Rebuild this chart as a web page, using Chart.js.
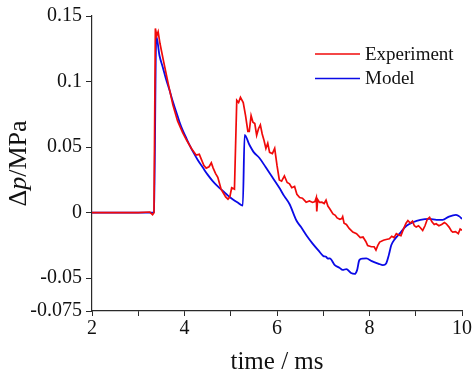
<!DOCTYPE html>
<html>
<head>
<meta charset="utf-8"/>
<title>Pressure</title>
<script src="https://cdn.jsdelivr.net/npm/chart.js@4.4.0/dist/chart.umd.min.js"></script>
<style>
  body { margin: 0; background: #fff; }
  #box { position: relative; width: 474px; height: 381px; }
</style>
</head>
<body>
<div id="box"><canvas id="cv" width="474" height="381"></canvas></div>
<script>
// experiment trace (time in ms, dp in MPa)
const expTime = [2.0, 3.0, 3.25, 3.31, 3.34, 3.37, 3.40, 3.43, 3.47, 3.55, 3.65, 3.75, 3.85, 3.96, 4.05, 4.15, 4.25, 4.32, 4.36, 4.42, 4.47, 4.53, 4.58, 4.62, 4.67, 4.72, 4.79, 4.84, 4.89, 4.94, 4.98, 5.02, 5.08, 5.13, 5.17, 5.21, 5.27, 5.32, 5.37, 5.40, 5.44, 5.48, 5.52, 5.56, 5.60, 5.64, 5.68, 5.72, 5.76, 5.80, 5.84, 5.90, 5.95, 6.00, 6.05, 6.10, 6.16, 6.22, 6.27, 6.32, 6.38, 6.43, 6.49, 6.55, 6.63, 6.70, 6.77, 6.82, 6.85, 6.86, 6.88, 6.92, 6.97, 7.02, 7.06, 7.10, 7.14, 7.21, 7.26, 7.30, 7.36, 7.40, 7.42, 7.45, 7.50, 7.56, 7.64, 7.72, 7.80, 7.86, 7.92, 7.96, 8.04, 8.10, 8.14, 8.18, 8.22, 8.30, 8.36, 8.43, 8.48, 8.53, 8.58, 8.63, 8.68, 8.74, 8.79, 8.83, 8.88, 8.93, 8.97, 9.01, 9.06, 9.10, 9.15, 9.20, 9.25, 9.30, 9.35, 9.40, 9.44, 9.50, 9.56, 9.62, 9.66, 9.72, 9.77, 9.80, 9.86, 9.92, 9.96, 10.0];
const expValue = [0, 0, 0.0005, -0.0015, 0, 0.1405, 0.135, 0.138, 0.129, 0.115, 0.098, 0.082, 0.070, 0.061, 0.055, 0.049, 0.044, 0.0445, 0.041, 0.036, 0.034, 0.035, 0.038, 0.034, 0.030, 0.027, 0.018, 0.015, 0.012, 0.0103, 0.012, 0.019, 0.018, 0.0857, 0.084, 0.088, 0.084, 0.074, 0.062, 0.062, 0.074, 0.069, 0.068, 0.059, 0.064, 0.067, 0.060, 0.055, 0.049, 0.053, 0.046, 0.045, 0.049, 0.036, 0.025, 0.024, 0.028, 0.023, 0.022, 0.019, 0.020, 0.014, 0.0115, 0.011, 0.008, 0.009, 0.0078, 0.0085, 0.0115, 0.001, 0.010, 0.0078, 0.008, 0.007, 0.0095, 0.005, 0.003, -0.001, -0.002, -0.004, -0.005, -0.0045, -0.003, -0.008, -0.009, -0.012, -0.0148, -0.016, -0.019, -0.0186, -0.022, -0.025, -0.026, -0.026, -0.0285, -0.025, -0.0224, -0.021, -0.0205, -0.0199, -0.018, -0.019, -0.016, -0.017, -0.0175, -0.012, -0.008, -0.006, -0.008, -0.0065, -0.010, -0.011, -0.010, -0.0115, -0.0136, -0.010, -0.005, -0.0035, -0.007, -0.009, -0.0085, -0.010, -0.009, -0.0075, -0.0085, -0.011, -0.014, -0.0148, -0.0145, -0.016, -0.0125, -0.0135];

// model trace
const modelTime = [2.0, 3.30, 3.34, 3.39, 3.46, 3.53, 3.60, 3.68, 3.75, 3.82, 3.89, 3.96, 4.04, 4.11, 4.18, 4.29, 4.40, 4.50, 4.61, 4.72, 4.83, 4.94, 5.04, 5.15, 5.26, 5.30, 5.40, 5.50, 5.62, 5.75, 5.90, 6.05, 6.15, 6.27, 6.42, 6.52, 6.65, 6.77, 6.90, 7.00, 7.06, 7.10, 7.14, 7.25, 7.35, 7.42, 7.50, 7.60, 7.68, 7.73, 7.78, 7.85, 7.93, 8.05, 8.20, 8.29, 8.36, 8.42, 8.47, 8.55, 8.65, 8.80, 8.94, 9.10, 9.30, 9.45, 9.58, 9.72, 9.87, 9.95, 10.0];
const modelValue = [0, 0, 0.0005, 0.1347, 0.1197, 0.111, 0.102, 0.093, 0.0845, 0.077, 0.0694, 0.063, 0.0568, 0.0515, 0.0467, 0.040, 0.0342, 0.029, 0.0241, 0.020, 0.0166, 0.013, 0.0103, 0.0077, 0.0053, 0.0593, 0.052, 0.046, 0.0417, 0.035, 0.027, 0.019, 0.013, 0.0066, -0.006, -0.011, -0.018, -0.0236, -0.029, -0.033, -0.0337, -0.035, -0.0349, -0.040, -0.042, -0.0437, -0.043, -0.046, -0.0467, -0.044, -0.0362, -0.035, -0.0349, -0.037, -0.039, -0.040, -0.0387, -0.032, -0.0249, -0.020, -0.016, -0.010, -0.0073, -0.0055, -0.0048, -0.0055, -0.0055, -0.003, -0.0017, -0.003, -0.0048];

const yTicks = [-0.075, -0.05, 0, 0.05, 0.1, 0.15];
const yTickLabels = ['-0.075', '-0.05', '0', '0.05', '0.1', '0.15'];
const xTicks = [2, 4, 6, 8, 10];

const serif = '"Liberation Serif", "Times New Roman", serif';
const axisCol = '#2a2a2a';

function pts(xs, ys) {
  return xs.map((x, i) => ({ x: x, y: ys[i] }));
}

// legend drawn inside the plot, short line + label
const insideLegend = {
  id: 'insideLegend',
  afterDatasetsDraw(chart) {
    const c = chart.ctx;
    c.save();
    c.font = '19px ' + serif;
    c.textBaseline = 'middle';
    chart.data.datasets.forEach((ds, i) => {
      const y = 54 + i * 24.5;
      c.strokeStyle = ds.borderColor;
      c.lineWidth = 1.6;
      c.beginPath();
      c.moveTo(315, y);
      c.lineTo(360, y);
      c.stroke();
      c.fillStyle = '#111';
      c.fillText(ds.label, 365, y + 1);
    });
    c.restore();
  }
};

// y title with italic p
const yTitle = {
  id: 'yTitle',
  afterDraw(chart) {
    const c = chart.ctx;
    const a = chart.chartArea;
    const parts = [['Δ', 'normal'], ['p', 'italic'], ['/MPa', 'normal']];
    c.save();
    c.translate(26, (a.top + a.bottom) / 2);
    c.rotate(-Math.PI / 2);
    c.fillStyle = '#111';
    c.textBaseline = 'alphabetic';
    let w = 0;
    parts.forEach(p => { c.font = p[1] + ' 26px ' + serif; w += c.measureText(p[0]).width; });
    let x = -w / 2;
    parts.forEach(p => {
      c.font = p[1] + ' 26px ' + serif;
      c.fillText(p[0], x, 0);
      x += c.measureText(p[0]).width;
    });
    c.restore();
  }
};

new Chart(document.getElementById('cv').getContext('2d'), {
  type: 'scatter',
  data: {
    datasets: [
      {
        label: 'Experiment',
        data: pts(expTime, expValue),
        showLine: true,
        borderColor: 'rgb(240,10,10)',
        borderWidth: 1.7,
        pointRadius: 0,
        tension: 0
      },
      {
        label: 'Model',
        data: pts(modelTime, modelValue),
        showLine: true,
        borderColor: 'rgb(10,10,230)',
        borderWidth: 1.8,
        pointRadius: 0,
        cubicInterpolationMode: 'monotone'
      }
    ]
  },
  options: {
    responsive: false,
    animation: false,
    layout: { padding: { left: 0, right: 12, top: 13, bottom: 0 } },
    plugins: {
      legend: { display: false },
      tooltip: { enabled: false }
    },
    scales: {
      x: {
        type: 'linear',
        min: 2,
        max: 10,
        afterBuildTicks: s => { s.ticks = [2, 3, 4, 5, 6, 7, 8, 9, 10].map(v => ({ value: v })); },
        afterFit: s => { s.height = 70; },
        ticks: {
          callback: v => xTicks.includes(v) ? String(v) : '',
          font: { family: serif, size: 20 },
          color: '#111',
          padding: 1,
          maxRotation: 0,
          autoSkip: false
        },
        grid: { drawOnChartArea: false, tickLength: 5, color: axisCol, tickWidth: 1 },
        border: { color: axisCol, width: 1.2 },
        title: {
          display: true,
          text: 'time / ms',
          font: { family: serif, size: 25 },
          color: '#111',
          padding: { top: 0, bottom: 4 }
        }
      },
      y: {
        min: -0.075,
        max: 0.15,
        afterBuildTicks: s => { s.ticks = yTicks.map(v => ({ value: v })); },
        afterFit: s => { s.width = 92; },
        ticks: {
          callback: (v) => yTickLabels[yTicks.indexOf(v)],
          font: { family: serif, size: 20 },
          color: '#111',
          padding: 4
        },
        grid: { drawOnChartArea: false, tickLength: 6, color: axisCol, tickWidth: 1 },
        border: { color: axisCol, width: 1.2 }
      }
    }
  },
  plugins: [insideLegend, yTitle]
});
</script>
</body>
</html>
